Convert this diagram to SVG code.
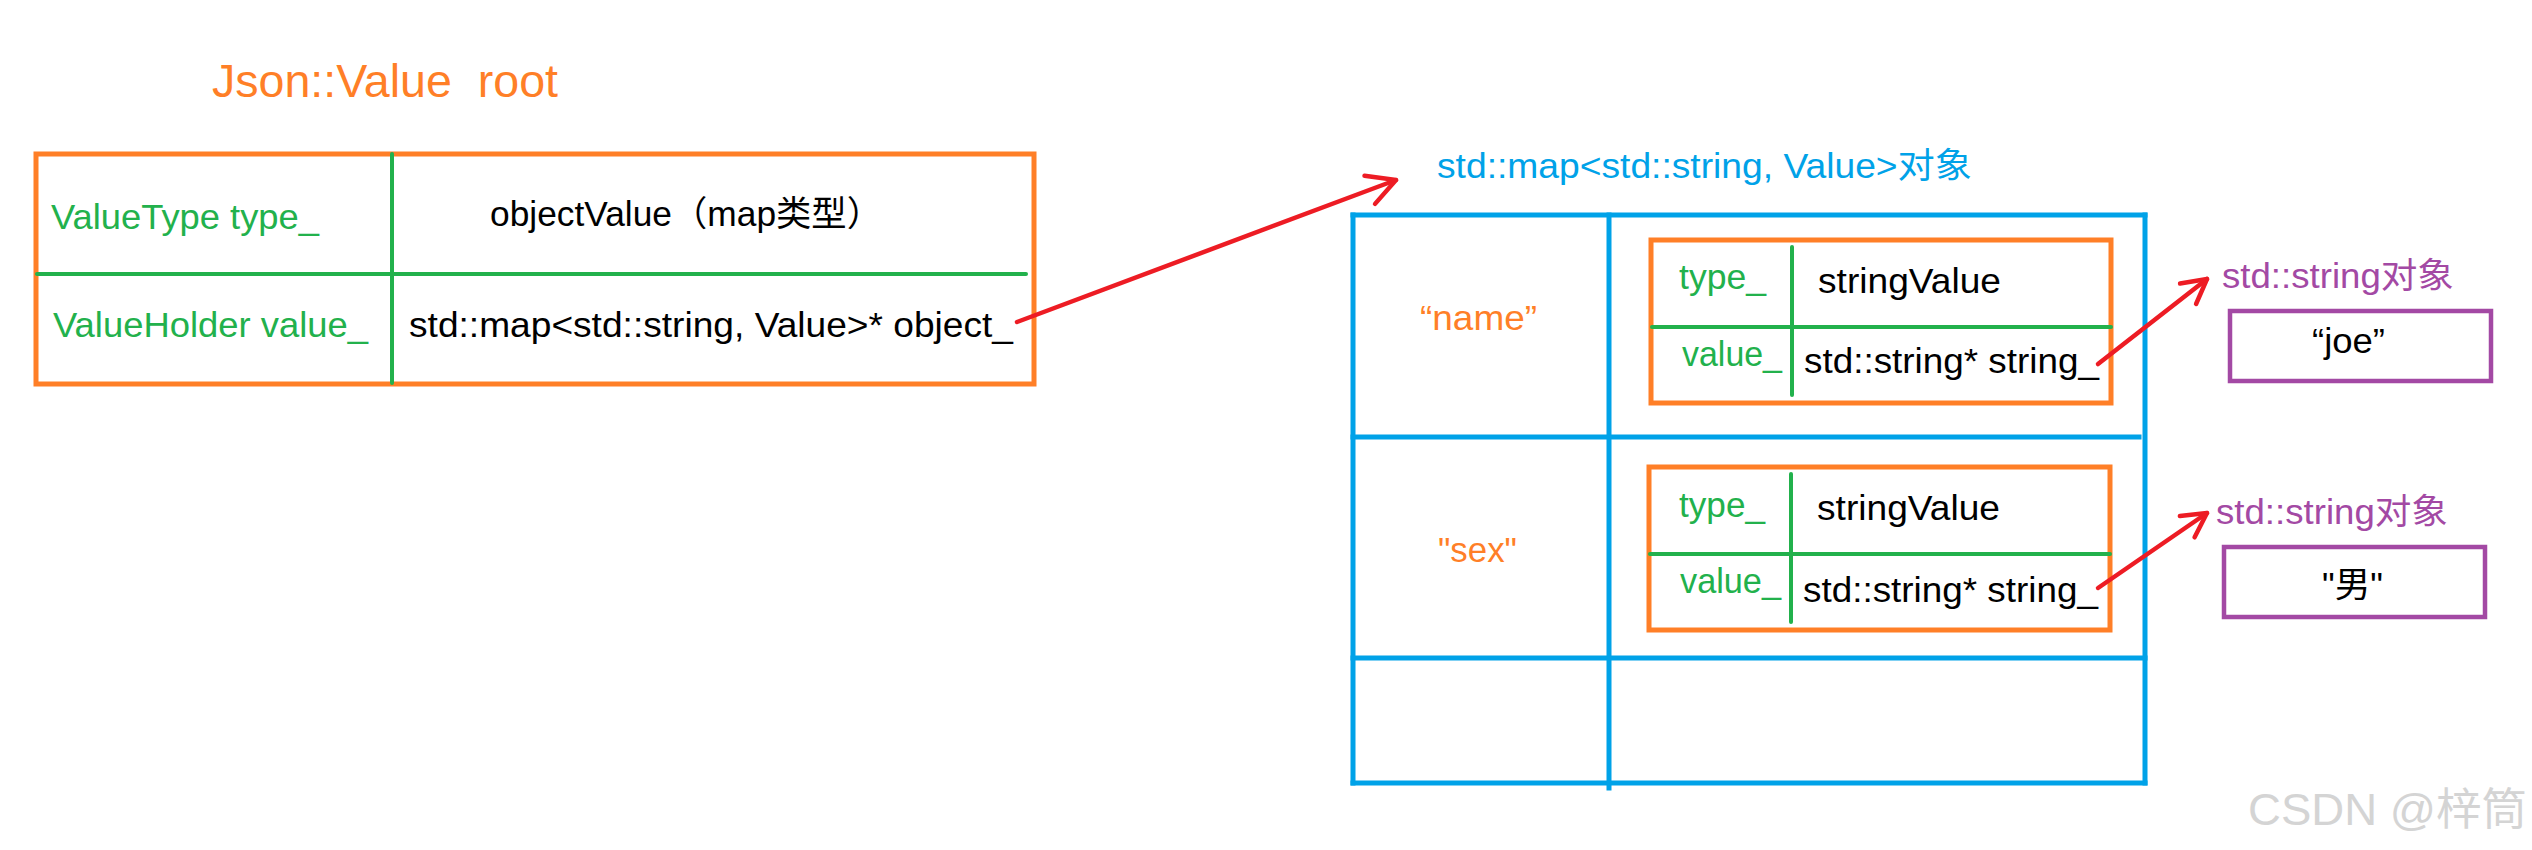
<svg xmlns="http://www.w3.org/2000/svg" width="2532" height="850" viewBox="0 0 2532 850">
<style>
  text { font-family: "Liberation Sans", "Noto Sans CJK SC", sans-serif; font-size: 35px; }
  .title { font-size: 47px; fill: #FF7F27; }
  .green { fill: #22B14C; }
  .black { fill: #000000; }
  .orangeT { fill: #FF7F27; }
  .blueT { fill: #00A2E8; }
  .purpleT { fill: #A349A4; }
  .obox { fill: none; stroke: #FF7F27; stroke-width: 5; }
  .gline { stroke: #22B14C; stroke-width: 4; stroke-linecap: round; }
  .bline { stroke: #00A2E8; stroke-width: 5; stroke-linecap: square; }
  .pbox { fill: none; stroke: #A349A4; stroke-width: 4.5; }
  .arrow { fill: none; stroke: #ED1C24; stroke-width: 4.5; stroke-linecap: round; }
  .wm { font-size: 44px; fill: #d4d4d4; }
</style>
<defs>
  <marker id="vhead" markerUnits="userSpaceOnUse" viewBox="-34 -20 40 40" refX="0" refY="0" markerWidth="40" markerHeight="40" orient="auto" overflow="visible">
    <path d="M-28,-15 L0,0 L-28,15" fill="none" stroke="#ED1C24" stroke-width="4.5" stroke-linecap="round" stroke-linejoin="round"/>
  </marker>
  <marker id="vheadS" markerUnits="userSpaceOnUse" viewBox="-30 -16 34 32" refX="0" refY="0" markerWidth="34" markerHeight="32" orient="auto" overflow="visible">
    <path d="M-24,-13 L0,0 L-24,13" fill="none" stroke="#ED1C24" stroke-width="4.5" stroke-linecap="round" stroke-linejoin="round"/>
  </marker>
</defs>
<rect x="0" y="0" width="2532" height="850" fill="#ffffff"/>

<g id="root-title">
  <text class="title" x="212" y="97" textLength="346" lengthAdjust="spacingAndGlyphs" xml:space="preserve">Json::Value  root</text>
</g>

<g id="root-value">
  <rect class="obox" x="36" y="154" width="998" height="230"/>
  <line class="gline" x1="392" y1="154" x2="392" y2="383"/>
  <line class="gline" x1="37" y1="274" x2="1026" y2="274"/>
  <text class="green" x="51" y="229" textLength="268" lengthAdjust="spacingAndGlyphs">ValueType type_</text>
  <text class="black" x="490" y="226" textLength="392" lengthAdjust="spacingAndGlyphs">objectValue（map类型）</text>
  <text class="green" x="53" y="337" textLength="315" lengthAdjust="spacingAndGlyphs">ValueHolder value_</text>
  <text class="black" x="409" y="337" textLength="604" lengthAdjust="spacingAndGlyphs">std::map&lt;std::string, Value&gt;* object_</text>
</g>

<g id="map-object">
  <text class="blueT" x="1437" y="178" textLength="535" lengthAdjust="spacingAndGlyphs">std::map&lt;std::string, Value&gt;对象</text>
  <line class="bline" x1="1353" y1="215" x2="2145" y2="215"/>
  <line class="bline" x1="1353" y1="215" x2="1353" y2="783"/>
  <line class="bline" x1="2145" y1="215" x2="2145" y2="783"/>
  <line class="bline" x1="1353" y1="783" x2="2145" y2="783"/>
  <line class="bline" x1="1609" y1="215" x2="1609" y2="788"/>
  <line class="bline" x1="1353" y1="437" x2="2139" y2="437"/>
  <line class="bline" x1="1353" y1="658" x2="2145" y2="658"/>
  <text class="orangeT" x="1420" y="330" textLength="117" lengthAdjust="spacingAndGlyphs">“name”</text>
  <text class="orangeT" x="1438" y="562" textLength="79" lengthAdjust="spacingAndGlyphs">"sex"</text>
</g>

<g id="entry-name-value">
  <rect class="obox" x="1651" y="240" width="460" height="163"/>
  <line class="gline" x1="1792" y1="247" x2="1792" y2="395"/>
  <line class="gline" x1="1652" y1="327" x2="2111" y2="327"/>
  <text class="green" x="1679" y="289" textLength="87" lengthAdjust="spacingAndGlyphs">type_</text>
  <text class="black" x="1818" y="293" textLength="183" lengthAdjust="spacingAndGlyphs">stringValue</text>
  <text class="green" x="1682" y="366" textLength="100" lengthAdjust="spacingAndGlyphs">value_</text>
  <text class="black" x="1804" y="373" textLength="295" lengthAdjust="spacingAndGlyphs">std::string* string_</text>
</g>

<g id="entry-sex-value">
  <rect class="obox" x="1649" y="467" width="461" height="163"/>
  <line class="gline" x1="1791" y1="474" x2="1791" y2="622"/>
  <line class="gline" x1="1650" y1="554" x2="2110" y2="554"/>
  <text class="green" x="1679" y="517" textLength="86" lengthAdjust="spacingAndGlyphs">type_</text>
  <text class="black" x="1817" y="520" textLength="183" lengthAdjust="spacingAndGlyphs">stringValue</text>
  <text class="green" x="1680" y="593" textLength="101" lengthAdjust="spacingAndGlyphs">value_</text>
  <text class="black" x="1803" y="602" textLength="295" lengthAdjust="spacingAndGlyphs">std::string* string_</text>
</g>

<g id="string-joe">
  <text class="purpleT" x="2222" y="288" textLength="232" lengthAdjust="spacingAndGlyphs">std::string对象</text>
  <rect class="pbox" x="2230" y="311" width="261" height="70"/>
  <text class="black" x="2312" y="353" textLength="73" lengthAdjust="spacingAndGlyphs">“joe”</text>
</g>

<g id="string-male">
  <text class="purpleT" x="2216" y="524" textLength="232" lengthAdjust="spacingAndGlyphs">std::string对象</text>
  <rect class="pbox" x="2224" y="547" width="261" height="70"/>
  <text class="black" x="2322" y="597" textLength="61" lengthAdjust="spacingAndGlyphs">"男"</text>
</g>

<g id="connectors">
  <line class="arrow" x1="1017" y1="322" x2="1396" y2="180" marker-end="url(#vhead)"/>
  <line class="arrow" x1="2098" y1="364" x2="2207" y2="279" marker-end="url(#vheadS)"/>
  <line class="arrow" x1="2098" y1="588" x2="2207" y2="513" marker-end="url(#vheadS)"/>
</g>

<g id="watermark">
  <text class="wm" x="2248" y="825" textLength="279" lengthAdjust="spacingAndGlyphs">CSDN @梓筒</text>
</g>
</svg>
